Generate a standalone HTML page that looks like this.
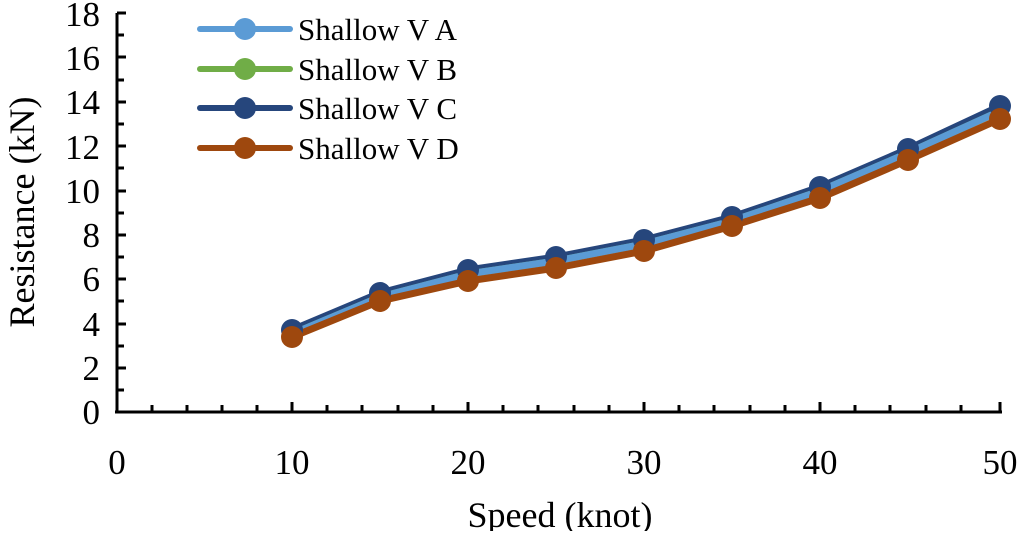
<!DOCTYPE html>
<html><head><style>body{margin:0;background:#fff}</style></head><body>
<svg width="1020" height="531" xmlns="http://www.w3.org/2000/svg" font-family="Liberation Serif, serif">
<g id="axes" stroke="#000" stroke-width="3" fill="none">
<line x1="117" y1="13" x2="117" y2="412"/>
<line x1="115" y1="412" x2="1002" y2="412"/>
</g>
<g stroke="#000" stroke-width="3">
<path d="M117 13h9M117 35h7M117 57h9M117 80h7M117 102h9M117 124h7M117 146h9M117 168h7M117 191h9M117 213h7M117 235h9M117 257h7M117 279h9M117 301h7M117 324h9M117 346h7M117 368h9M117 390h7"/>
<path d="M152 412v-7M187 412v-7M222 412v-7M257 412v-7M292 412v-10M327 412v-7M362 412v-7M398 412v-7M433 412v-7M468 412v-10M503 412v-7M538 412v-7M574 412v-7M609 412v-7M644 412v-10M679 412v-7M714 412v-7M750 412v-7M785 412v-7M820 412v-10M855 412v-7M890 412v-7M926 412v-7M961 412v-7M1000 412v-10"/>
</g>
<g font-size="35" text-anchor="end">
<text x="100" y="424">0</text><text x="100" y="380">2</text><text x="100" y="336">4</text><text x="100" y="291">6</text><text x="100" y="247">8</text><text x="100" y="203">10</text><text x="100" y="159">12</text><text x="100" y="114">14</text><text x="100" y="70">16</text><text x="100" y="26">18</text>
</g>
<g font-size="35" text-anchor="middle">
<text x="117" y="474">0</text><text x="292" y="474">10</text><text x="468" y="474">20</text><text x="644" y="474">30</text><text x="820" y="474">40</text><text x="1000" y="474">50</text>
</g>
<text x="560" y="527" font-size="36" text-anchor="middle">Speed (knot)</text>
<text transform="translate(34,212) rotate(-90)" font-size="36" text-anchor="middle">Resistance (kN)</text>
<g fill="none" stroke-width="7" stroke-linejoin="round">
<polyline stroke="#26467c" points="292,330 380,293 468,270 556,257 644,240 732,217 820,187 908,149 1000,106"/>
<polyline stroke="#70ad47" points="292,334 380,297 468,274 556,261 644,244 732,221 820,191 908,153 1000,111"/>
<polyline stroke="#5b9bd5" points="292,334 380,297 468,274 556,261 644,244 732,221 820,191 908,153 1000,111"/>
<polyline stroke="#9e480e" points="292,337 380,301 468,281 556,268 644,251 732,226 820,198 908,160 1000,119"/>
</g>
<g fill="#26467c"><circle cx="292" cy="330" r="11"/><circle cx="380" cy="293" r="11"/><circle cx="468" cy="270" r="11"/><circle cx="556" cy="257" r="11"/><circle cx="644" cy="240" r="11"/><circle cx="732" cy="217" r="11"/><circle cx="820" cy="187" r="11"/><circle cx="908" cy="149" r="11"/><circle cx="1000" cy="106" r="11"/></g>
<g fill="#9e480e"><circle cx="292" cy="337" r="11"/><circle cx="380" cy="301" r="11"/><circle cx="468" cy="281" r="11"/><circle cx="556" cy="268" r="11"/><circle cx="644" cy="251" r="11"/><circle cx="732" cy="226" r="11"/><circle cx="820" cy="198" r="11"/><circle cx="908" cy="160" r="11"/><circle cx="1000" cy="119" r="11"/></g>
<g stroke-width="6" stroke-linecap="round">
<line x1="200" y1="29" x2="290" y2="29" stroke="#5b9bd5"/><circle cx="245" cy="29" r="11" fill="#5b9bd5"/>
<line x1="200" y1="69" x2="290" y2="69" stroke="#70ad47"/><circle cx="245" cy="69" r="11" fill="#70ad47"/>
<line x1="200" y1="108" x2="290" y2="108" stroke="#26467c"/><circle cx="245" cy="108" r="11" fill="#26467c"/>
<line x1="200" y1="148" x2="290" y2="148" stroke="#9e480e"/><circle cx="245" cy="148" r="11" fill="#9e480e"/>
</g>
<g font-size="31">
<text x="298" y="40">Shallow V A</text><text x="298" y="80">Shallow V B</text><text x="298" y="119">Shallow V C</text><text x="298" y="159">Shallow V D</text>
</g>
</svg>
</body></html>
